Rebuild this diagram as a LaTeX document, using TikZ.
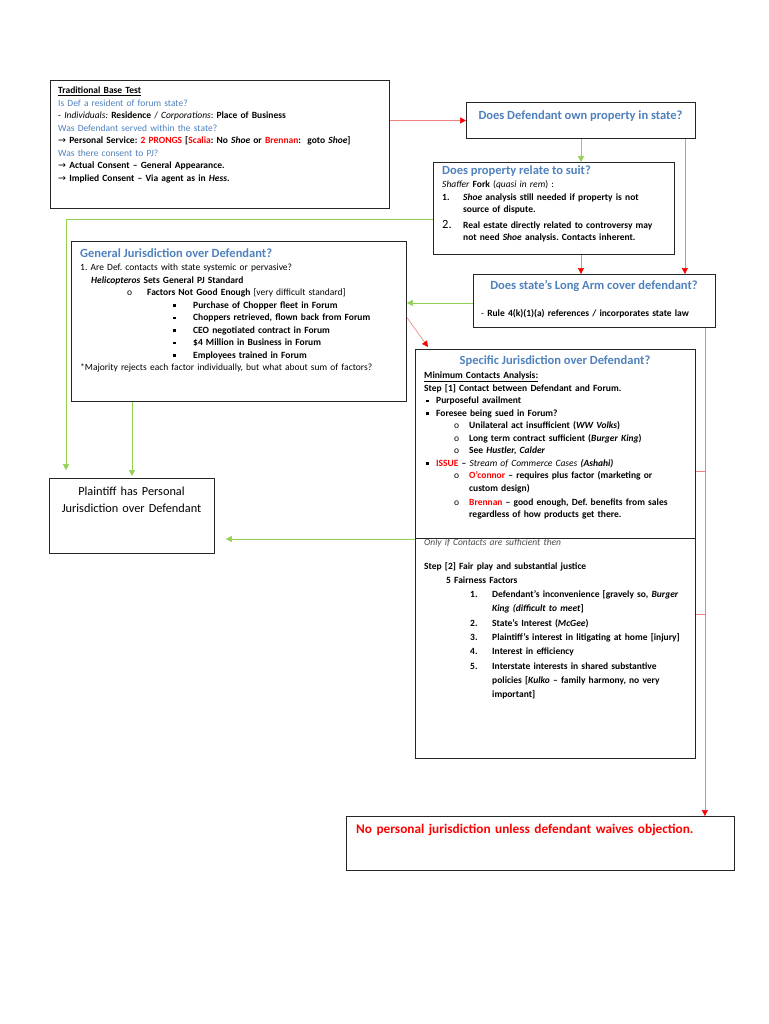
\documentclass[tikz,border=0pt]{standalone}
\usepackage{fontspec}
\setmainfont{Carlito}
\newfontfamily\symfont{DejaVu Sans}
\usepackage{tikz}
\usetikzlibrary{arrows.meta}
\usetikzlibrary{positioning}
\frenchspacing

\definecolor{qblue}{RGB}{79,129,189}
\definecolor{qred}{RGB}{255,0,0}
\definecolor{lgreen}{RGB}{146,208,80}
\definecolor{lred}{RGB}{242,130,130}
\newcommand{\arr}{{\symfont\fontsize{9.5}{9}\selectfont →}}
\newcommand{\sqb}{\rule[0.3ex]{2.6pt}{2.6pt}}
\newcommand{\body}{\fontsize{9.5}{12.5}\selectfont}
\newcommand{\head}{\fontsize{12.5}{14}\selectfont\bfseries\color{qblue}}

\begin{document}
\begin{tikzpicture}[x=1pt,y=-1pt,
    box node/.style={draw=black!85,line width=0.9pt,anchor=north west,inner sep=0pt},
    text node/.style={anchor=base west,inner sep=0pt,align=left,font=\body},
    head node/.style={inner sep=0pt,font=\head},
    green line/.style={draw=lgreen,line width=0.6pt,-{Triangle[lgreen,length=6pt,width=6pt]}},
    red line/.style={draw=lred,line width=0.6pt,-{Triangle[qred,length=6pt,width=6pt]}},
    red tick/.style={draw=lred,line width=0.9pt}]
  \useasboundingbox[fill=white] (0,0) rectangle (768,1024);

  % boxes
  \node[box node,minimum width=339pt,minimum height=128pt] (tbt) at (50,80) {};
  \node[box node,minimum width=229pt,minimum height=36pt] (own) at (466,102) {};
  \node[box node,minimum width=241pt,minimum height=92pt] (rel) at (433,162) {};
  \node[box node,minimum width=335pt,minimum height=160pt] (gen) at (71,241) {};
  \node[box node,minimum width=242pt,minimum height=53pt] (arm) at (473,274) {};
  \node[box node,minimum width=280pt,minimum height=189pt] (spec) at (415,349) {};
  \node[box node,minimum width=280pt,minimum height=220pt] (fair) at (415,538) {};
  \node[box node,minimum width=165pt,minimum height=75pt] (pl) at (49,478) {};
  \node[box node,minimum width=388pt,minimum height=54pt] (nop) at (346,816) {};

  % texts
  \node[text node,text width=335pt] (tbttxt) at (58,94) {%
    \underline{\textbf{Traditional Base Test}}\\
    {\color{qblue}Is Def a resident of forum state?}\\
    - \textit{Individuals:} \textbf{Residence} / \textit{Corporations}: \textbf{Place of Business}\\
    {\color{qblue}Was Defendant served within the state?}\\
    \arr\ \textbf{Personal Service: {\color{qred}2 PRONGS} [{\color{qred}Scalia}: No \textit{Shoe} or {\color{qred}Brennan}:\ \ goto \textit{Shoe}]}\\
    {\color{qblue}Was there consent to PJ?}\\
    \arr\ \textbf{Actual Consent – General Appearance.}\\
    \arr\ \textbf{Implied Consent – Via agent as in \textit{Hess}.}};

  \node[head node] (owntxt) at (580.5,116) {Does Defendant own property in state?};

  \node[head node,anchor=base west] (relhead) at (442,175) {Does property relate to suit?};
  \node[text node,text width=235pt] (reltxt) at (442,188) {%
    \textit{Shaffer} \textbf{Fork} (\textit{quasi in rem}) :\\
    \makebox[21pt][l]{\textbf{1.}}\textbf{\textit{Shoe} analysis still needed if property is not}\\
    \hspace*{21pt}\textbf{source of dispute.}\\[3pt]
    \makebox[21pt][l]{\fontsize{12.5}{12}\selectfont 2.}\textbf{Real estate directly related to controversy may}\\
    \hspace*{21pt}\textbf{not need \textit{Shoe} analysis. Contacts inherent.}};

  \node[head node,anchor=base west] (genhead) at (80,257) {General Jurisdiction over Defendant?};
  \node[text node,text width=325pt] (gentxt) at (80,270.5) {%
    1.\ Are Def. contacts with state systemic or pervasive?\\
    \hspace*{11pt}\textbf{\textit{Helicopteros} Sets General PJ Standard}\\
    \hspace*{47pt}\makebox[20pt][l]{o}\textbf{Factors Not Good Enough} [very difficult standard]\\
    \hspace*{93pt}\makebox[20pt][l]{\sqb}\textbf{Purchase of Chopper fleet in Forum}\\
    \hspace*{93pt}\makebox[20pt][l]{\sqb}\textbf{Choppers retrieved, flown back from Forum}\\
    \hspace*{93pt}\makebox[20pt][l]{\sqb}\textbf{CEO negotiated contract in Forum}\\
    \hspace*{93pt}\makebox[20pt][l]{\sqb}\textbf{\$4 Million in Business in Forum}\\
    \hspace*{93pt}\makebox[20pt][l]{\sqb}\textbf{Employees trained in Forum}\\
    {*}Majority rejects each factor individually, but what about sum of factors?};

  \node[head node] (armhead) at (594,286) {Does state’s Long Arm cover defendant?};
  \node[text node,text width=232pt] (armtxt) at (481,316) {%
    - \textbf{Rule 4(k)(1)(a) references / incorporates state law}};

  \node[head node] (spechead) at (555,361) {Specific Jurisdiction over Defendant?};
  \node[text node,text width=275pt,font=\body\bfseries] (spectxt) at (424,378.5) {%
    \underline{Minimum Contacts Analysis:}\\
    Step [1] Contact between Defendant and Forum.\\
    \hspace*{2pt}\makebox[10pt][l]{\sqb}Purposeful availment\\
    \hspace*{2pt}\makebox[10pt][l]{\sqb}Foresee being sued in Forum?\\
    \hspace*{30pt}\makebox[15pt][l]{\mdseries o}Unilateral act insufficient (\textit{WW Volks})\\
    \hspace*{30pt}\makebox[15pt][l]{\mdseries o}Long term contract sufficient (\textit{Burger King})\\
    \hspace*{30pt}\makebox[15pt][l]{\mdseries o}See \textit{Hustler, Calder}\\
    \hspace*{2pt}\makebox[10pt][l]{\sqb}{\color{qred}ISSUE} – {\mdseries\textit{Stream of Commerce Cases}} \textit{(Ashahi)}\\
    \hspace*{30pt}\makebox[15pt][l]{\mdseries o}{\color{qred}O’connor} – requires plus factor (marketing or\\
    \hspace*{45pt}custom design)\\[1.5pt]
    \hspace*{30pt}\makebox[15pt][l]{\mdseries o}{\color{qred}Brennan} – good enough, Def. benefits from sales\\
    \hspace*{45pt}regardless of how products get there.};

  \node[text node,text width=260pt,font=\body\itshape,text=black!70] (onlytxt) at (424,545) {Only if Contacts are sufficient then};
  \node[text node,text width=275pt,font=\fontsize{9.5}{14.3}\selectfont\bfseries] (fairtxt) at (424,569) {%
    Step [2] Fair play and substantial justice\\
    \hspace*{22pt}5 Fairness Factors\\
    \hspace*{46pt}\makebox[22pt][l]{1.}Defendant’s inconvenience [gravely so, \textit{Burger}\\
    \hspace*{68pt}\textit{King (difficult to meet}]\\
    \hspace*{46pt}\makebox[22pt][l]{2.}State’s Interest (\textit{McGee})\\
    \hspace*{46pt}\makebox[22pt][l]{3.}Plaintiff’s interest in litigating at home [injury]\\
    \hspace*{46pt}\makebox[22pt][l]{4.}Interest in efficiency\\
    \hspace*{46pt}\makebox[22pt][l]{5.}Interstate interests in shared substantive\\
    \hspace*{68pt}policies [\textit{Kulko} – family harmony, no very\\
    \hspace*{68pt}important]};

  \node[inner sep=0pt,anchor=base,align=center,text width=165pt,font=\fontsize{12.3}{17}\selectfont] (pltxt) at (131.5,495) {Plaintiff has Personal\\Jurisdiction over Defendant};

  \node[text node,text width=385pt,font=\fontsize{13.3}{15}\selectfont\bfseries,text=qred] (noptxt) at (356,833) {No personal jurisdiction unless defendant waives objection.};

  % connectors
  \coordinate (gturn) at (66,219);
  \draw[red line] (own.west -| tbt.east) -- (own.west);
  \draw[green line] (own.south) -- (own.south |- rel.north);
  \draw[green line] (rel.west |- gturn) -- (gturn) -- ([yshift=8pt]pl.north -| gturn);
  \draw[green line] (pl.north |- gen.south) -- ([yshift=2pt]pl.north);
  \draw[green line] ([yshift=-2pt]arm.west) -- ([yshift=-2pt]arm.west -| gen.east);
  \draw[red line] ([yshift=4pt]gen.east) -- ([xshift=13pt,yshift=2pt]spec.north west);
  \draw[red line] (rel.south -| own.south) -- (arm.north -| own.south);
  \draw[red line] ([xshift=-11pt]own.south east) -- ([xshift=-11pt]own.south east |- arm.north);
  \draw[red line] ([xshift=-11pt]arm.south east) -- ([xshift=-11pt]arm.south east |- nop.north);
  \draw[red tick] ([yshift=-27.5pt]spec.east) -- ++(9,0);
  \draw[red tick] ([yshift=34pt]fair.east) -- ++(9,0);
  \draw[green line] ([yshift=-1pt]fair.north west) -- ([xshift=11pt,yshift=-1pt]fair.north west -| pl.east);
\end{tikzpicture}
\end{document}
